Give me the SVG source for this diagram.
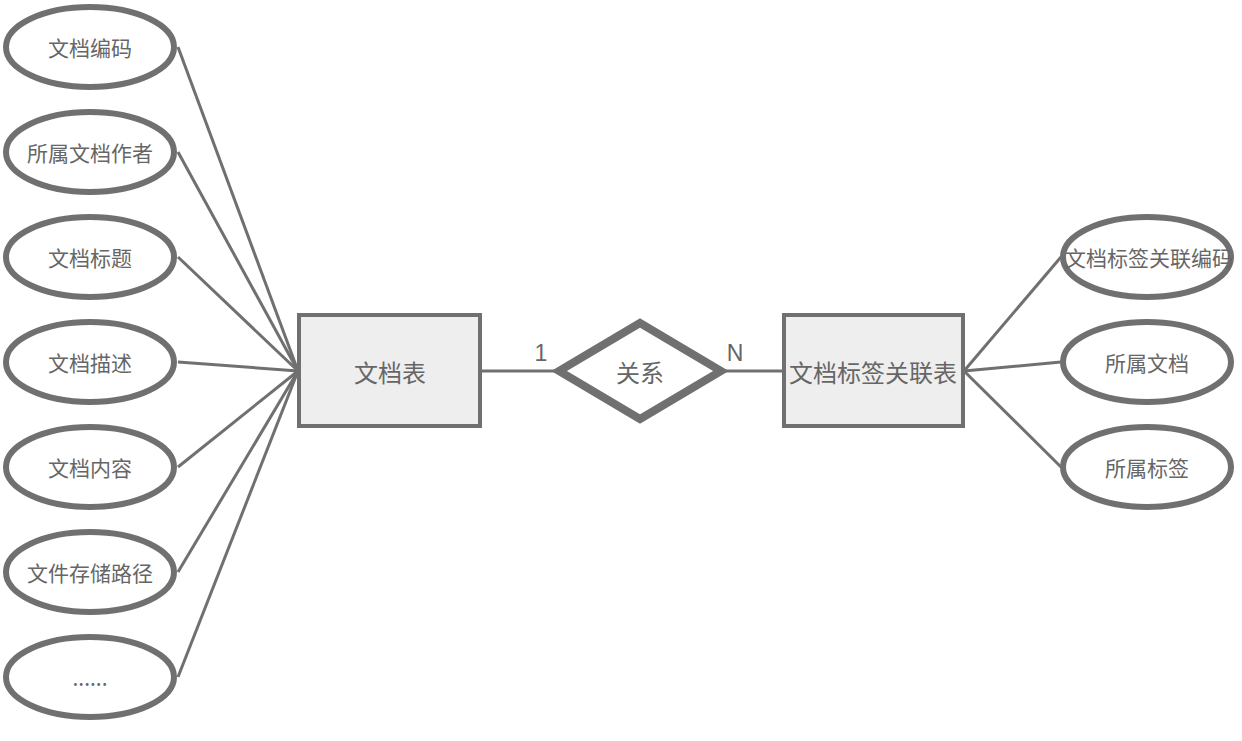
<svg xmlns="http://www.w3.org/2000/svg" width="1242" height="741" viewBox="0 0 1242 741">
<style>
.attr{fill:#ffffff;stroke:#707070;stroke-width:6}
.ent{fill:#eeeeee;stroke:#707070;stroke-width:4}
.rel{fill:#ffffff;stroke:#707070;stroke-width:8;stroke-linejoin:miter}
.ln{stroke:#707070;stroke-width:3;fill:none}
text{font-family:"Noto Sans CJK SC","Liberation Sans",sans-serif;fill:#666666;text-anchor:middle;dominant-baseline:central}
.t21{font-size:21px}
.t24{font-size:24px}
.lbl{font-family:"Liberation Sans","Noto Sans CJK SC",sans-serif;font-size:23px}
</style>
<rect width="1242" height="741" fill="#ffffff"/>
<g id="connectors">
<line class="ln" x1="178" y1="47" x2="298" y2="371"/>
<line class="ln" x1="178" y1="152" x2="298" y2="371"/>
<line class="ln" x1="178" y1="257" x2="298" y2="371"/>
<line class="ln" x1="178" y1="362" x2="298" y2="371"/>
<line class="ln" x1="178" y1="467" x2="298" y2="371"/>
<line class="ln" x1="178" y1="572" x2="298" y2="371"/>
<line class="ln" x1="178" y1="677" x2="298" y2="371"/>
<line class="ln" x1="481" y1="371" x2="555" y2="371"/>
<line class="ln" x1="725" y1="371" x2="783" y2="371"/>
<line class="ln" x1="964" y1="371" x2="1061" y2="257"/>
<line class="ln" x1="964" y1="371" x2="1061" y2="362"/>
<line class="ln" x1="964" y1="371" x2="1061" y2="467"/>
<text class="lbl" x="541" y="353">1</text>
<text class="lbl" x="735" y="353">N</text>
</g>
<g id="attr1"><ellipse class="attr" cx="90" cy="47" rx="84" ry="40"/><text class="t21" x="90" y="47">文档编码</text></g>
<g id="attr2"><ellipse class="attr" cx="90" cy="152" rx="84" ry="40"/><text class="t21" x="90" y="152">所属文档作者</text></g>
<g id="attr3"><ellipse class="attr" cx="90" cy="257" rx="84" ry="40"/><text class="t21" x="90" y="257">文档标题</text></g>
<g id="attr4"><ellipse class="attr" cx="90" cy="362" rx="84" ry="40"/><text class="t21" x="90" y="362">文档描述</text></g>
<g id="attr5"><ellipse class="attr" cx="90" cy="467" rx="84" ry="40"/><text class="t21" x="90" y="467">文档内容</text></g>
<g id="attr6"><ellipse class="attr" cx="90" cy="572" rx="84" ry="40"/><text class="t21" x="90" y="572">文件存储路径</text></g>
<g id="attr7"><ellipse class="attr" cx="90" cy="677" rx="84" ry="40"/><text class="t21" x="90" y="677">......</text></g>
<g id="entity1"><rect class="ent" x="299" y="315" width="181" height="111"/><text class="t24" x="390" y="371">文档表</text></g>
<g id="relation"><path class="rel" d="M640,323 L721,371 L640,419 L559,371 Z"/><text class="t24" x="640" y="371">关系</text></g>
<g id="entity2"><rect class="ent" x="784" y="315" width="179" height="111"/><text class="t24" x="873" y="371">文档标签关联表</text></g>
<g id="attr8"><ellipse class="attr" cx="1147" cy="257" rx="84" ry="40"/><text class="t21" x="1149" y="257">文档标签关联编码</text></g>
<g id="attr9"><ellipse class="attr" cx="1147" cy="362" rx="84" ry="40"/><text class="t21" x="1147" y="362">所属文档</text></g>
<g id="attr10"><ellipse class="attr" cx="1147" cy="467" rx="84" ry="40"/><text class="t21" x="1147" y="467">所属标签</text></g>
</svg>
